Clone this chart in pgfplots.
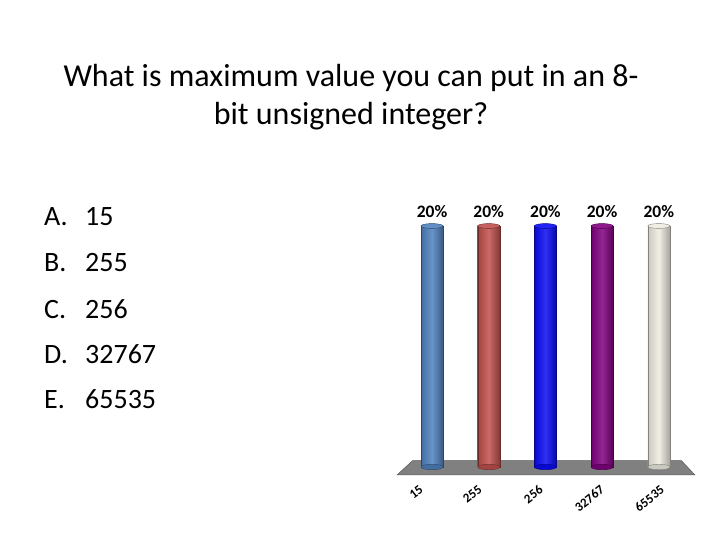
\documentclass[border=0pt]{standalone}
\usepackage{pgfplots}
\pgfplotsset{compat=1.18}
\usepackage{fontspec}
\setmainfont{Carlito}

\definecolor{barA}{HTML}{4F81BD}
\definecolor{barB}{HTML}{C0504D}
\definecolor{barC}{HTML}{0A0AF5}
\definecolor{barD}{HTML}{800080}
\definecolor{barE}{HTML}{EEECE1}
\definecolor{floorgray}{HTML}{808080}

% one cylinder: bottom rim, shaded body, top cap
\newcommand{\cyl}[2]{%
  \addplot[only marks, mark=*, mark size=11pt,
    mark options={yscale=0.25, fill=#1!85!black, draw=#1!55!black, line width=0.4pt}]
    coordinates {(#2,0)};
  \addplot[ybar, bar width=22pt, bar shift=0pt, draw=#1!55!black, line width=0.4pt,
    left color=#1!85!black, right color=#1!70!black, middle color=#1!85!white,
    nodes near coords={\pgfmathprintnumber[assume math mode=true]{\pgfplotspointmeta}\%},
    every node near coord/.append style={anchor=south, inner sep=0pt, yshift=8pt,
      font=\bfseries\fontsize{17.5}{20}\selectfont, text=black}]
    coordinates {(#2,20)};
  \addplot[only marks, mark=*, mark size=11pt,
    mark options={yscale=0.22, fill=#1!90!white, draw=#1!55!black, line width=0.4pt}]
    coordinates {(#2,20)};
}

\begin{document}
\begin{tikzpicture}
\path[use as bounding box, fill=white] (0pt,0pt) rectangle (720pt,540pt);

% slide title
\node[anchor=base, inner sep=0pt, font=\fontsize{32}{38}\selectfont] at (351pt,453.3pt)
  {What is maximum value you can put in an 8-};
\node[anchor=base, inner sep=0pt, font=\fontsize{32}{38}\selectfont] at (351pt,415pt)
  {bit unsigned integer?};

% answer list
\begin{scope}[every node/.style={anchor=base west, inner sep=0pt, font=\fontsize{28}{34}\selectfont}]
\node at (44pt,314pt) {A.};   \node at (85pt,314pt) {15};
\node at (44pt,268.3pt) {B.}; \node at (85pt,268.3pt) {255};
\node at (44pt,221.7pt) {C.}; \node at (85pt,221.7pt) {256};
\node at (44pt,176.7pt) {D.}; \node at (85pt,176.7pt) {32767};
\node at (44pt,131.7pt) {E.}; \node at (85pt,131.7pt) {65535};
\end{scope}

\begin{axis}[
  at={(432pt,73pt)}, anchor=origin,
  x=56.7pt, y=12.05pt,
  xmin=-0.7, xmax=4.7, ymin=-1, ymax=22,
  hide y axis,
  axis x line*=bottom,
  x axis line style={draw=none},
  xtick style={draw=none},
  xtick={-0.31,0.727,1.80,2.88,3.94},
  xticklabels={15,255,256,32767,65535},
  xticklabel style={rotate=38, anchor=north east, inner sep=0pt, yshift=-7pt,
    font=\bfseries\fontsize{13}{15}\selectfont},
  clip=false,
]
% floor
\addplot[mark=none, fill=floorgray, draw=black!65, line width=0.5pt]
  coordinates {(-0.617,-0.664) (-0.344,0.523) (4.40,0.523) (4.638,-0.664)} -- cycle;

\cyl{barA}{0}
\cyl{barB}{1}
\cyl{barC}{2}
\cyl{barD}{3}
\cyl{barE}{4}
\end{axis}
\end{tikzpicture}
\end{document}
